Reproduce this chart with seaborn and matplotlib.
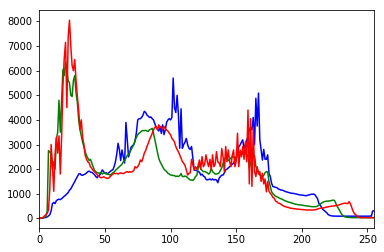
import matplotlib
matplotlib.use("Agg")
import matplotlib.pyplot as plt
import seaborn as sns
import pandas as pd
import numpy as np

# Pixel intensity bins
bins = list(range(256))

blue = [
    0, 0, 10, 20, 30, 40, 60, 100, 150, 300,
    600, 650, 600, 720, 760, 780, 760, 800, 850, 900,
    940, 1000, 1050, 1150, 1200, 1300, 1400, 1500, 1600, 1700,
    1800, 1820, 1760, 1750, 1780, 1800, 1850, 1900, 1920, 1880,
    1870, 1830, 1780, 1700, 1650, 1720, 1760, 1850, 1970, 1900,
    1830, 1850, 1800, 1860, 1900, 1950, 1970, 2100, 2300, 2600,
    3050, 2800, 2350, 2780, 2500, 2250, 3900, 3200, 2500, 2700,
    2900, 2950, 3000, 3150, 3500, 4000, 4050, 4050, 4100, 4200,
    4350, 4300, 4200, 4150, 4100, 4120, 4050, 4000, 3850, 3700,
    3650, 3550, 3700, 3450, 3800, 3400, 3600, 3900, 4000, 4050,
    4000, 4100, 5700, 4500, 4300, 5000, 4200, 2850, 4450, 2850,
    3000, 3100, 3250, 3000, 2850, 2800, 2920, 2440, 1970, 1950,
    1950, 1900, 1880, 1760, 1800, 1720, 1690, 1590, 1560, 1580,
    1600, 1560, 1600, 1560, 1580, 1560, 1450, 1630, 1700, 1760,
    1760, 1850, 1970, 2000, 2050, 2100, 2150, 2200, 2240, 2350,
    2500, 2600, 2920, 2980, 3100, 3190, 2800, 3000, 3200, 3300,
    3600, 3700, 3600, 4100, 3000, 4880, 3750, 5090, 3200, 2780,
    2370, 2800, 2400, 2400, 2580, 1830, 1700, 1420, 1290, 1280,
    1260, 1250, 1200, 1180, 1150, 1150, 1130, 1100, 1080, 1070,
    1050, 1040, 1020, 1020, 1010, 1000, 990, 970, 960, 950,
    950, 940, 930, 920, 930, 950, 960, 980, 980, 990,
    960, 880, 800, 610, 540, 450, 365, 320, 280, 230,
    160, 130, 110, 100, 95, 95, 92, 90, 90, 90,
    90, 90, 90, 90, 90, 90, 90, 90, 90, 90,
    90, 90, 90, 90, 90, 90, 90, 90, 90, 90,
    90, 90, 95, 95, 300, 310,
]

green = [
    0, 10, 20, 30, 50, 80, 300, 2750, 2700, 2650,
    2000, 2300, 2000, 3200, 3500, 4800, 3500, 4800, 6050, 5800,
    6350, 6000, 5600, 5500, 5000, 4950, 5600, 5800, 5100, 4700,
    4000, 3600, 3350, 3100, 2900, 2700, 2550, 2450, 2350, 2400,
    2250, 2100, 1950, 1900, 1850, 1850, 1830, 1870, 1800, 1850,
    1850, 1800, 1820, 1780, 1760, 1800, 1850, 1880, 1950, 2000,
    2050, 2100, 2150, 2200, 2300, 2350, 2450, 2550, 2600, 2700,
    2800, 2900, 3000, 3190, 3300, 3400, 3460, 3500, 3550, 3570,
    3560, 3580, 3550, 3530, 3600, 3620, 3660, 3460, 3200, 2920,
    2700, 2440, 2300, 2200, 2100, 2000, 1950, 1900, 1830, 1800,
    1760, 1760, 1740, 1740, 1700, 1720, 1700, 1740, 1820, 1700,
    1700, 1720, 1700, 1650, 1600, 1560, 1560, 1540, 1600, 1700,
    1750, 2030, 2240, 2000, 1950, 1900, 1900, 1880, 1850, 1800,
    1850, 2030, 1900, 1850, 1800, 1800, 1820, 1850, 1950, 2050,
    2240, 2350, 2510, 2400, 2350, 2400, 2450, 2500, 2510, 2450,
    2400, 2600, 2650, 2700, 2710, 2600, 2650, 2700, 2600, 2500,
    2030, 2300, 2400, 2510, 2550, 2100, 2000, 1900, 1760, 1720,
    1700, 1750, 1850, 1900, 1880, 1500, 1300, 1080, 1000, 950,
    900, 880, 850, 820, 800, 780, 750, 720, 700, 680,
    660, 650, 630, 610, 600, 580, 570, 560, 550, 545,
    540, 530, 520, 510, 505, 500, 490, 480, 475, 475,
    475, 480, 500, 540, 580, 620, 650, 680, 690, 700,
    700, 710, 720, 730, 745, 720, 600, 480, 400, 300,
    200, 130, 80, 60, 50, 40, 40, 35, 30, 30,
    30, 30, 30, 30, 30, 30, 30, 30, 30, 30,
    30, 30, 30, 30, 30, 30,
]

red = [
    0, 10, 20, 50, 100, 150, 200, 340, 1200, 3000,
    2200, 1100, 2600, 3300, 2650, 3350, 1800, 3300, 5400, 6500,
    7150, 4500, 7350, 8050, 7000, 6200, 6000, 6450, 5600, 4950,
    4400, 3600, 4000, 3300, 3000, 2550, 2400, 2300, 2250, 2100,
    2030, 1950, 1900, 1850, 1780, 1720, 1680, 1650, 1660, 1690,
    1660, 1640, 1620, 1640, 1700, 1750, 1800, 1830, 1820, 1830,
    1800, 1830, 1850, 1830, 1820, 1850, 1880, 1900, 1870, 1900,
    1880, 1900, 1950, 2100, 2050, 2100, 2200, 2370, 2300, 2450,
    2650, 2750, 2920, 3050, 3200, 3320, 3450, 3590, 3700, 3730,
    3590, 3800, 3700, 3730, 3600, 3730, 3650, 3590, 3550, 3460,
    3400, 3250, 3190, 3100, 2920, 2800, 2700, 2580, 2440, 2310,
    2240, 2150, 1970, 1760, 1830, 1850, 2400, 2170, 1970, 2100,
    2000, 2150, 2370, 2000, 2510, 2100, 2200, 2580, 2300, 2100,
    2400, 1970, 2580, 2100, 2200, 2710, 2300, 2250, 2100, 2840,
    2500, 1900, 2920, 2300, 2780, 2300, 2100, 2560, 2780, 2100,
    2300, 3460, 2100, 2780, 2500, 2920, 2400, 3100, 2300, 4400,
    1400, 4050, 1300, 3700, 1900, 1700, 2100, 1800, 1900, 1500,
    1830, 1400, 1600, 1080, 1500, 1100, 1020, 950, 850, 820,
    700, 680, 620, 610, 580, 540, 510, 480, 470, 450,
    440, 420, 410, 400, 395, 390, 380, 375, 370, 365,
    360, 355, 350, 345, 340, 340, 345, 340, 340, 345,
    350, 360, 380, 400, 410, 415, 420, 430, 450, 460,
    470, 480, 490, 500, 500, 510, 520, 530, 540, 560,
    580, 600, 610, 620, 610, 600, 680, 600, 450, 300,
    200, 150, 100, 60, 40, 30, 30, 30, 30, 30,
    30, 30, 30, 30, 30, 30,
]

channels = ["b", "g", "r"]
colors = {"b": "blue", "g": "green", "r": "red"}

assert len(blue) == len(green) == len(red) == len(bins)

df = pd.concat([
    pd.DataFrame({"bin": bins, "count": blue, "ch": "b"}),
    pd.DataFrame({"bin": bins, "count": green, "ch": "g"}),
    pd.DataFrame({"bin": bins, "count": red, "ch": "r"}),
], ignore_index=True)

fig = plt.figure(figsize=(384 / 72, 252 / 72), dpi=72)
ax = fig.add_axes([39.3 / 384, 1 - 228.3 / 252, (374 - 39.3) / 384, (228.3 - 10.3) / 252])
sns.lineplot(data=df, x="bin", y="count", hue="ch", hue_order=channels,
             palette=colors, estimator=None, sort=False, legend=False,
             linewidth=1.5, ax=ax)
ax.set_xlim(0, 255)
ax.set_xlabel("")
ax.set_ylabel("")
fig.savefig("out.png", dpi=72)
